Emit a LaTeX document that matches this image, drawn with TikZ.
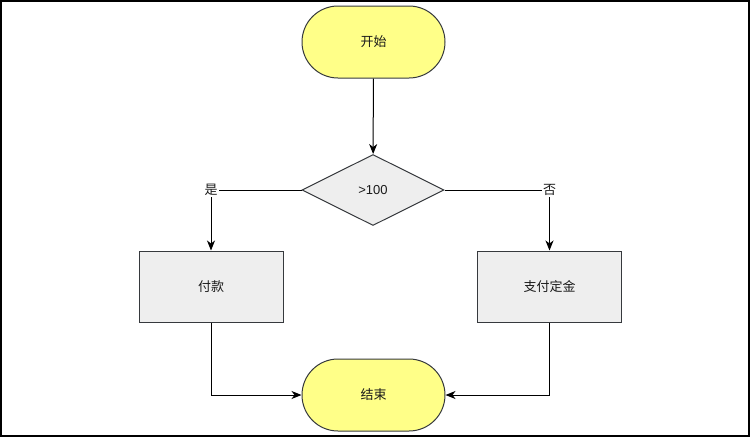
\documentclass[tikz,border=0pt]{standalone}
\usepackage{fontspec}
\setmainfont{Liberation Sans}
\newfontfamily\cjk{Noto Sans CJK SC}
\usetikzlibrary{shapes.geometric,shapes.misc,arrows.meta}
\definecolor{termfill}{HTML}{FFFF88}
\definecolor{boxfill}{HTML}{EEEEEE}
\definecolor{edgegray}{HTML}{36393D}
\definecolor{txt}{HTML}{1A1A1A}
\begin{document}
\begin{tikzpicture}[x=1pt,y=-1pt,
  font=\fontsize{13}{15}\selectfont,
  term/.style={rounded rectangle, draw=edgegray, fill=termfill, line width=1pt,
    minimum width=143pt, minimum height=72pt, inner sep=0pt, text=txt},
  dec/.style={diamond, draw=edgegray, fill=boxfill, line width=1pt, aspect=2,
    minimum width=142pt, minimum height=71pt, inner sep=0pt, text=txt},
  proc/.style={rectangle, draw=edgegray, fill=boxfill, line width=1pt,
    minimum width=144pt, minimum height=71pt, inner sep=0pt, text=txt},
  lbl/.style={fill=white, inner sep=1pt, text=txt},
  arr/.style={draw=black, line width=1pt, -{Stealth[length=10pt,width=8pt,inset=3pt]}}
]
\useasboundingbox (0,0) rectangle (750,437);
\draw[line width=1.5pt] (0.75,0.75) rectangle (748.75,435.75);

\node[term] (start) at (373.5,42) {\cjk 开始};
\node[dec] (cond) at (373,190) {>100};
\node[proc] (pay) at (211,286.5) {\cjk 付款};
\node[proc] (dep) at (549.5,286.5) {\cjk 支付定金};
\node[term] (end) at (373.5,395) {\cjk 结束};

\draw[arr] (start) -- (cond);
\draw[arr] (cond.west) -| node[lbl, pos=0.5] (yes) {\cjk 是} (pay.north);
\draw[arr] (cond.east) -| node[lbl, pos=0.5] (no) {\cjk 否} (dep.north);
\draw[arr] (pay.south) |- (end.west);
\draw[arr] (dep.south) |- (end.east);
\end{tikzpicture}
\end{document}
